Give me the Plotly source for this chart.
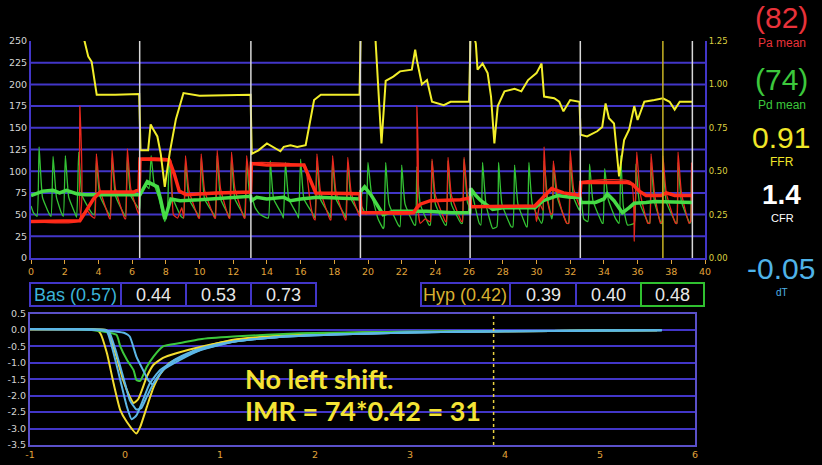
import plotly.graph_objects as go

W, H = 822, 465

# ---------------- data ----------------
# Phasic distal pressure (green, mmHg)
PD_T = [0.00, 0.15, 0.36, 0.48, 0.68, 1.05, 1.19, 1.31, 1.51, 1.80, 1.92, 2.04, 2.24, 2.60, 2.71, 2.83, 3.03, 3.60,
        3.76, 3.88, 4.08, 4.58, 4.69, 4.81, 5.01, 5.48, 5.60, 5.72, 5.92, 6.44, 6.50, 6.80, 7.00, 7.13, 7.30, 7.60,
        7.94, 8.10, 8.20, 8.40, 8.90, 9.05, 9.17, 9.37, 9.90, 9.98, 10.10, 10.30, 10.85, 10.93, 11.05, 11.25, 11.70,
        11.78, 11.90, 12.10, 12.60, 12.68, 12.80, 13.00, 13.10, 13.30, 13.60, 14.08, 14.20, 14.40, 14.90, 14.98,
        15.10, 15.30, 15.80, 15.88, 16.00, 16.20, 16.75, 16.85, 16.97, 17.17, 17.70, 17.78, 17.90, 18.10, 18.60,
        18.68, 18.80, 19.00, 19.50, 19.60, 19.88, 20.00, 20.20, 20.60, 20.90, 20.95, 21.05, 21.25, 21.80, 21.90,
        22.00, 22.20, 22.75, 22.82, 22.90, 23.10, 23.62, 23.70, 23.80, 24.00, 24.58, 24.65, 24.75, 24.95, 25.52,
        25.60, 25.70, 25.90, 26.05, 26.10, 26.35, 26.60, 26.70, 26.80, 27.00, 27.40, 27.65, 27.75, 27.95, 28.50,
        28.60, 28.70, 28.90, 29.40, 29.45, 29.55, 29.75, 30.30, 30.38, 30.45, 30.65, 30.90, 30.95, 31.00, 31.20,
        31.80, 31.90, 32.00, 32.20, 32.55, 32.65, 32.80, 33.05, 33.15, 33.35, 33.90, 33.95, 34.05, 34.25, 34.70,
        34.90, 35.00, 35.15, 35.40, 35.80, 35.90, 36.10, 36.65, 36.72, 36.80, 37.00, 37.40, 37.45, 37.50, 37.70,
        38.28, 38.33, 38.40, 38.60, 39.10, 39.15, 39.20, 39.25]
PD_V = [60, 52, 48, 128, 70, 52, 48, 117, 70, 52, 48, 118, 70, 52, 47, 122, 72, 52,
        50, 112, 72, 52, 48, 115, 72, 52, 48, 116, 72, 56, 75, 84, 80, 118, 86, 68,
        42, 55, 118, 70, 48, 46, 112, 68, 50, 46, 115, 68, 50, 46, 118, 68, 50,
        46, 116, 68, 50, 46, 112, 70, 70, 58, 50, 46, 112, 68, 50, 46,
        110, 68, 50, 46, 114, 68, 50, 46, 112, 68, 50, 46, 112, 68, 50,
        46, 110, 68, 52, 60, 50, 110, 75, 45, 34, 36, 110, 62, 38, 36,
        107, 62, 38, 38, 105, 62, 38, 38, 112, 62, 38, 38, 112, 62, 40,
        40, 114, 64, 58, 80, 60, 40, 38, 110, 62, 34, 36, 110, 62, 36,
        36, 107, 62, 36, 36, 110, 62, 40, 45, 112, 70, 45, 50, 108, 72,
        40, 40, 112, 70, 55, 70, 45, 42, 108, 66, 40, 40, 103, 68, 45,
        40, 118, 60, 38, 40, 108, 65, 40, 40, 110, 65, 40, 40, 108, 65,
        40, 40, 110, 65, 40, 42, 100, 80]

# Phasic aortic pressure (red, mmHg)
PA_T = [0.00, 2.85, 2.90, 2.95, 3.30, 3.60, 3.78, 3.88, 4.08, 4.65, 4.71, 4.81, 5.01, 5.55, 5.62, 5.72, 5.92, 6.40,
        6.46, 8.20, 8.30, 8.45, 8.70, 8.95, 9.07, 9.17, 9.37, 9.95, 10.00, 10.10, 10.30, 10.90, 10.95, 11.05, 11.25,
        11.75, 11.80, 11.90, 12.10, 12.65, 12.70, 12.80, 13.00, 13.06, 16.20, 16.30, 16.60, 16.80, 16.87, 16.97,
        17.17, 17.75, 17.80, 17.90, 18.10, 18.65, 18.70, 18.80, 19.00, 19.50, 19.56, 22.80, 22.90, 22.95, 23.10,
        23.40, 23.65, 23.70, 23.80, 24.00, 24.60, 24.65, 24.75, 24.95, 25.55, 25.60, 25.70, 25.90, 26.03, 26.08,
        29.85, 30.00, 30.20, 30.38, 30.45, 30.60, 30.85, 30.95, 31.00, 31.20, 31.50, 31.80, 31.92, 32.00, 32.20,
        32.55, 32.62, 35.60, 35.80, 35.85, 35.88, 35.95, 36.15, 36.60, 36.72, 36.80, 37.00, 37.35, 37.45, 37.50,
        37.70, 38.25, 38.33, 38.40, 38.60, 39.05, 39.15, 39.20, 39.25]
PA_V = [42, 43, 175, 48, 55, 48, 46, 120, 80, 46, 45, 124, 80, 46, 45, 126, 80, 50,
        114, 114, 112, 50, 46, 58, 46, 118, 78, 46, 46, 120, 78, 46, 46, 124, 80,
        46, 46, 122, 80, 46, 46, 118, 80, 109, 107, 105, 60, 45, 44, 120,
        78, 44, 44, 118, 76, 44, 44, 116, 76, 48, 52, 52, 175, 60, 40,
        45, 42, 42, 114, 72, 42, 42, 116, 72, 42, 42, 116, 72, 65, 59,
        60, 42, 62, 55, 128, 70, 50, 52, 112, 80, 55, 40, 40, 124, 80,
        60, 87, 88, 19, 60, 70, 122, 75, 40, 40, 120, 75, 40, 42, 118,
        75, 40, 40, 122, 75, 40, 42, 110, 70]

# Mean aortic pressure (thick red)
PA_MEAN_T = [0.0, 2.9, 3.2, 3.7, 4.1, 6.1, 6.42, 6.47, 8.2, 8.5, 8.8, 9.2, 11.0, 13.03, 13.08, 14.0, 16.2, 16.5,
             16.9, 19.53, 19.58, 22.7, 22.9, 23.1, 23.7, 25.5, 26.04, 26.09, 29.9, 30.3, 30.9, 31.6, 32.58, 32.63,
             35.4, 35.7, 36.1, 36.5, 37.4, 37.7, 38.2, 39.25]
PA_MEAN_V = [42, 43, 52, 68, 76, 76, 79, 114, 113, 97, 77, 73, 75, 76, 109, 107, 107, 93,
             75, 74, 52, 52, 58, 62, 66, 67, 69, 59, 60, 68, 80, 75, 72, 87,
             87, 85, 77, 72, 72, 75, 72, 72]

# Mean distal pressure (thick green)
PD_MEAN_T = [0.0, 0.7, 1.3, 1.7, 2.1, 2.7, 3.2, 6.42, 6.47, 6.9, 7.5, 7.7, 7.94, 8.3, 8.85, 10.0, 12.0, 13.03,
             13.08, 13.4, 14.0, 15.0, 15.4, 16.0, 17.0, 19.53, 19.58, 19.8, 20.2, 20.7, 20.9, 21.5, 22.5, 23.5, 25.0,
             26.04, 26.09, 26.4, 26.7, 27.4, 28.0, 29.9, 30.4, 31.25, 32.0, 32.58, 32.63, 33.5, 34.0, 34.2, 34.6,
             35.1, 35.5, 35.8, 36.5, 37.0, 39.25]
PD_MEAN_V = [72, 77, 78, 75, 78, 74, 73, 73, 73, 88, 82, 67, 45, 68, 66, 67, 70, 71,
             66, 70, 68, 70, 66, 68, 70, 68, 77, 82, 72, 55, 50, 54, 54, 54, 52,
             52, 80, 72, 66, 56, 58, 58, 66, 72, 70, 70, 64, 64, 68, 74, 66,
             52, 58, 63, 64, 65, 64]

# Pd/Pa ratio (yellow, right axis)
RATIO_T = [0.0, 2.9, 3.1, 3.4, 3.6, 3.8, 3.9, 5.0, 6.42, 6.5, 6.95, 7.1, 7.2, 7.5, 7.7, 7.94, 8.24, 8.6, 9.05,
           10.0, 13.03, 13.1, 13.5, 14.0, 14.8, 15.0, 15.4, 15.8, 16.3, 16.8, 17.2, 19.5, 19.6, 20.35, 20.45,
           20.8, 21.05, 21.5, 21.9, 22.6, 22.8, 22.9, 23.2, 23.5, 23.6, 23.8, 24.5, 24.9, 26.0, 26.1, 26.4, 26.5,
           26.8, 27.1, 27.3, 27.5, 27.7, 28.1, 28.7, 29.1, 29.5, 30.0, 30.3, 30.45, 31.05, 31.35, 31.6, 32.0,
           32.55, 32.62, 33.0, 33.6, 33.9, 34.1, 34.3, 34.6, 34.9, 35.2, 35.5, 35.8, 36.0, 36.4, 37.0, 37.5, 37.9,
           38.2, 38.5, 39.25]
RATIO_V = [1.70, 1.70, 1.28, 1.16, 1.13, 1.00, 0.94, 0.94, 0.945, 0.62, 0.62, 0.77, 0.75, 0.70, 0.60, 0.41, 0.61,
           0.80, 0.95, 0.935, 0.94, 0.60, 0.62, 0.66, 0.615, 0.64, 0.65, 0.64, 0.65, 0.91, 0.94, 0.94, 1.50, 1.50,
           1.25, 0.66, 1.02, 1.045, 1.075, 1.085, 1.20, 1.14, 1.00, 1.025, 0.985, 0.90, 0.88, 0.90, 0.90, 1.35,
           1.235, 1.085, 1.12, 1.065, 0.93, 0.66, 0.875, 0.96, 0.975, 0.96, 1.025, 1.065, 1.12, 0.93, 0.92, 0.90,
           0.845, 0.91, 0.90, 0.71, 0.70, 0.73, 0.755, 0.89, 0.805, 0.775, 0.47, 0.68, 0.74, 0.875, 0.795, 0.90,
           0.91, 0.92, 0.90, 0.855, 0.90, 0.90]

SEGMENT_MARKS = [6.45, 13.05, 19.55, 26.06, 32.6, 39.25]
YELLOW_MARK = 37.5

TOP_X_TICKS = list(range(0, 41, 2))
TOP_Y_TICKS = [0, 25, 50, 75, 100, 125, 150, 175, 200, 225, 250]
TOP_GRID = [25, 50, 75, 100, 125, 150, 175, 200, 225]
RIGHT_Y_TICKS = [0.0, 0.25, 0.5, 0.75, 1.0, 1.25]

# Thermodilution curves (bottom panel)
BAS1_T = [-1.0, -0.5, -0.25, -0.19, -0.12, -0.05, 0.02, 0.07, 0.12, 0.19, 0.26, 0.37, 0.54, 0.79, 1.14, 1.6, 2.2, 3.0, 4.0, 5.0, 5.65]
BAS1_V = [0.03, 0.02, 0.0, -0.05, -0.71, -1.52, -2.34, -2.72, -2.6, -2.13, -1.63, -1.22, -0.91, -0.61, -0.36, -0.22, -0.14, -0.08, -0.04, -0.02, -0.01]
BAS2_T = [-1.0, -0.5, -0.2, -0.16, -0.09, 0.0, 0.05, 0.12, 0.17, 0.23, 0.3, 0.4, 0.58, 0.79, 1.14, 1.6, 2.2, 3.0, 4.0, 5.0, 5.65]
BAS2_V = [0.03, 0.02, 0.0, -0.1, -0.7, -1.63, -2.13, -2.42, -2.38, -2.03, -1.63, -1.22, -0.91, -0.62, -0.36, -0.22, -0.14, -0.08, -0.04, -0.02, -0.01]
BAS3_T = [-1.0, -0.5, -0.1, 0.0, 0.05, 0.12, 0.19, 0.25, 0.29, 0.33, 0.4, 0.5, 0.65, 0.85, 1.14, 1.6, 2.2, 3.0, 4.0, 5.0, 5.65]
BAS3_V = [0.03, 0.02, -0.05, -0.1, -0.2, -0.81, -1.22, -1.55, -1.65, -1.5, -1.22, -0.95, -0.72, -0.52, -0.36, -0.22, -0.14, -0.08, -0.04, -0.02, -0.01]
HYP1_T = [-1.0, -0.5, -0.3, -0.26, -0.19, -0.12, -0.05, 0.02, 0.12, 0.16, 0.23, 0.3, 0.37, 0.47, 0.65, 0.79, 1.14, 1.84, 2.5, 3.1, 4.0, 5.0, 5.6]
HYP1_V = [0.02, 0.02, 0.0, -0.1, -0.71, -1.63, -2.44, -2.8, -3.15, -2.95, -2.34, -1.75, -1.35, -1.0, -0.75, -0.55, -0.3, -0.12, -0.08, -0.06, -0.04, -0.02, -0.01]
HYP2_T = [-1.0, -0.5, -0.2, -0.16, -0.09, -0.02, 0.05, 0.09, 0.14, 0.23, 0.3, 0.4, 0.54, 0.79, 1.14, 1.6, 2.2, 3.0, 4.0, 5.0, 5.6]
HYP2_V = [0.02, 0.02, 0.0, -0.2, -0.81, -1.52, -2.03, -2.22, -2.1, -1.42, -1.06, -0.85, -0.71, -0.52, -0.32, -0.2, -0.13, -0.07, -0.04, -0.02, -0.01]
HYP3_T = [-1.0, -0.5, -0.35, -0.09, -0.05, 0.02, 0.09, 0.12, 0.16, 0.23, 0.3, 0.4, 0.58, 0.79, 1.14, 1.84, 2.5, 3.0, 4.0, 5.0, 5.65]
HYP3_V = [0.02, 0.02, 0.0, -0.15, -0.5, -0.91, -1.22, -1.52, -1.55, -1.12, -0.81, -0.5, -0.4, -0.28, -0.2, -0.1, -0.07, -0.05, -0.03, -0.02, 0.0]
DT_MARK = 3.88

BOT_X_TICKS = [-1, 0, 1, 2, 3, 4, 5, 6]
BOT_Y_TICKS = [0.5, 0.0, -0.5, -1.0, -1.5, -2.0, -2.5, -3.0, -3.5]

BAS_LABEL = "Bas (0.57)"
BAS_VALUES = ["0.44", "0.53", "0.73"]
HYP_LABEL = "Hyp (0.42)"
HYP_VALUES = ["0.39", "0.40", "0.48"]

READOUTS = [("(82)", "Pa mean"), ("(74)", "Pd mean"), ("0.91", "FFR"), ("1.4", "CFR"), ("-0.05", "dT")]
NOTE_LINES = ["No left shift.", "IMR = 74*0.42 = 31"]

# ---------------- styling ----------------
BLUE = "#4236c8"
BOXBLUE = "#5a50c8"
ORANGE = "#e0a43a"
GRAYTXT = "#d4d4d4"
YEL = "#f2ee2a"
CYAN = "#5cb6e6"


def px(x):
    return x / W


def py(y):
    return 1 - y / H


fig = go.Figure()

# top panel traces
fig.add_trace(go.Scatter(x=PD_T, y=PD_V, mode="lines",
                         line=dict(color="#34c234", width=1.3, shape="spline", smoothing=0.4), xaxis="x", yaxis="y"))
fig.add_trace(go.Scatter(x=PA_T, y=PA_V, mode="lines",
                         line=dict(color="#e8281e", width=1.3, shape="spline", smoothing=0.4), xaxis="x", yaxis="y"))
fig.add_trace(go.Scatter(x=PD_MEAN_T, y=PD_MEAN_V, mode="lines", line=dict(color="#46dc46", width=3.5), xaxis="x", yaxis="y"))
fig.add_trace(go.Scatter(x=PA_MEAN_T, y=PA_MEAN_V, mode="lines", line=dict(color="#ff2a18", width=3.5), xaxis="x", yaxis="y"))
fig.add_trace(go.Scatter(x=RATIO_T, y=RATIO_V, mode="lines", line=dict(color=YEL, width=2), xaxis="x", yaxis="y2"))

# bottom panel traces
for t, v, c in [(HYP1_T, HYP1_V, "#f2dc30"), (HYP2_T, HYP2_V, "#f2dc30"), (HYP3_T, HYP3_V, "#3cc83c"),
                (BAS1_T, BAS1_V, CYAN), (BAS2_T, BAS2_V, CYAN), (BAS3_T, BAS3_V, CYAN)]:
    fig.add_trace(go.Scatter(x=t, y=v, mode="lines", line=dict(color=c, width=2, shape="spline", smoothing=0.5),
                             xaxis="x2", yaxis="y3"))

shapes = []
for g in TOP_GRID:
    shapes.append(dict(type="line", xref="x", yref="y", x0=0, x1=40, y0=g, y1=g, layer="below",
                       line=dict(color=BLUE, width=2)))
for m in SEGMENT_MARKS:
    shapes.append(dict(type="line", xref="x", yref="y", x0=m, x1=m, y0=0, y1=250,
                       line=dict(color="#d8d8d8", width=1.5)))
shapes.append(dict(type="line", xref="x", yref="y", x0=YELLOW_MARK, x1=YELLOW_MARK, y0=0, y1=250,
                   line=dict(color="#c8b424", width=1.5)))
shapes.append(dict(type="line", xref="x2", yref="y3", x0=DT_MARK, x1=DT_MARK, y0=-3.5, y1=0.5,
                   line=dict(color="#e8d040", width=1.5, dash="dot")))

# value boxes
bas_edges = [30, 121, 186, 251, 316]
hyp_edges = [421, 510, 576, 641, 704]
BY0, BY1 = 283, 306
annotations = []
for edges, label, vals, lcol in [(bas_edges, BAS_LABEL, BAS_VALUES, "#3cb4d8"),
                                  (hyp_edges, HYP_LABEL, HYP_VALUES, "#d8b030")]:
    for i in range(4):
        shapes.append(dict(type="rect", xref="paper", yref="paper", x0=px(edges[i]), x1=px(edges[i + 1]),
                           y0=py(BY1), y1=py(BY0), line=dict(color=BLUE, width=2)))
        txt = label if i == 0 else vals[i - 1]
        col = lcol if i == 0 else "#e8e8e8"
        annotations.append(dict(xref="paper", yref="paper", x=px((edges[i] + edges[i + 1]) / 2), y=py(294.5),
                                text=txt, showarrow=False, xanchor="center", yanchor="middle",
                                font=dict(family="Liberation Sans Narrow, Liberation Sans, Arial", size=18, color=col)))
shapes.append(dict(type="rect", xref="paper", yref="paper", x0=px(hyp_edges[3]), x1=px(hyp_edges[4]),
                   y0=py(BY1), y1=py(BY0), line=dict(color="#30c030", width=2)))

# right readout panel: (big y, big size, colour, bold, small y, small size)
ro_styles = [
    (17, 30, "#e8323a", False, 43, 12),
    (79, 30, "#3cc83c", False, 105, 12),
    (137, 30, "#f0e628", False, 162, 12),
    (194, 28, "#ffffff", True, 218, 11),
    (268, 30, "#4fb3e8", False, 292, 10),
]
for (big, small), (yb, sb, col, bold, ys, ss) in zip(READOUTS, ro_styles):
    annotations.append(dict(xref="paper", yref="paper", x=px(781), y=py(yb), text=(f"<b>{big}</b>" if bold else big),
                            showarrow=False, xanchor="center", yanchor="middle",
                            font=dict(family="Liberation Sans, Arial", size=sb, color=col)))
    annotations.append(dict(xref="paper", yref="paper", x=px(782), y=py(ys), text=small,
                            showarrow=False, xanchor="center", yanchor="middle",
                            font=dict(family="Liberation Sans, Arial", size=ss, color=col)))

# note text
for line_txt, yy in zip(NOTE_LINES, [378, 410]):
    annotations.append(dict(xref="paper", yref="paper", x=px(243), y=py(yy), text=f"<b>{line_txt}</b>",
                            showarrow=False, xanchor="left", yanchor="middle",
                            font=dict(family="Lato, Open Sans, sans-serif", size=27, color="#f4e436")))

tickfont_g = dict(family="DejaVu Sans", size=9.5, color=GRAYTXT)
tickfont_o = dict(family="DejaVu Sans", size=9.5, color=ORANGE)

fig.update_layout(
    width=W, height=H, margin=dict(l=0, r=0, t=0, b=0, pad=0, autoexpand=False),
    paper_bgcolor="black", plot_bgcolor="black", showlegend=False, hovermode=False,
    shapes=shapes, annotations=annotations,
    xaxis=dict(domain=[px(31), px(705)], range=[0, 40], anchor="y", tickvals=TOP_X_TICKS, automargin=False,
               ticks="outside", ticklen=4, tickcolor=ORANGE, tickfont=tickfont_o,
               showgrid=False, zeroline=False, showline=True, linecolor=BLUE, linewidth=2),
    yaxis=dict(domain=[py(258), py(41)], range=[0, 250], anchor="x", tickvals=TOP_Y_TICKS, automargin=False,
               tickfont=tickfont_g, showgrid=False,
               zeroline=False, showline=True, linecolor=BLUE, linewidth=2),
    yaxis2=dict(overlaying="y", side="right", anchor="x", range=[0, 1.25], tickvals=RIGHT_Y_TICKS, automargin=False,
                ticktext=[f"{v:.2f}" for v in RIGHT_Y_TICKS],
                tickfont=dict(family="DejaVu Sans", size=8.5, color="#dcd040"),
                showgrid=False, zeroline=False, showline=True, linecolor=BLUE, linewidth=2),
    xaxis2=dict(domain=[px(30), px(695)], range=[-1, 6], anchor="y3", tickvals=BOT_X_TICKS, automargin=False,
                ticktext=[str(v) for v in BOT_X_TICKS], tickfont=tickfont_o,
                showgrid=False, zeroline=False, showline=True, mirror=True, linecolor=BOXBLUE, linewidth=2),
    yaxis3=dict(domain=[py(445), py(313.5)], range=[-3.5, 0.5], anchor="x2", tickvals=BOT_Y_TICKS, automargin=False,
                ticktext=[f"{v:.1f}" for v in BOT_Y_TICKS], tickfont=tickfont_g,
                showgrid=True, gridcolor=BLUE, gridwidth=2,
                zeroline=False, showline=True, mirror=True, linecolor=BOXBLUE, linewidth=2),
)

fig.write_html("out.html", config={"displayModeBar": False, "staticPlot": True},
               post_script="document.body.style.margin='0';document.body.style.padding='0';"
                           "document.body.style.overflow='hidden';document.body.style.background='black';")
